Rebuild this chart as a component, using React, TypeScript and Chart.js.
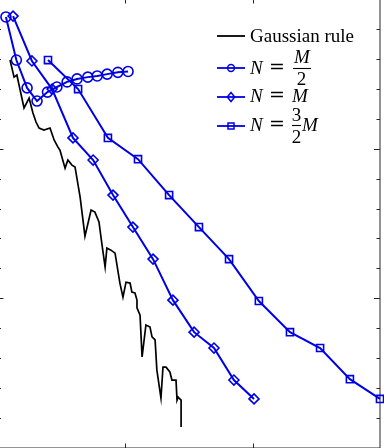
import React, { useEffect, useRef } from "react";
import { Chart, registerables } from "chart.js";

Chart.register(...registerables);

// ---- data (x: N, y: log10 of error) ----
const xTickValues = [50, 100];
const yDecades = [0, -1, -2, -3, -4, -5, -6, -7, -8, -9, -10, -11, -12, -13, -14, -15];
const yMajorDecades = [-5, -10];

const gaussN = [
  4.9, 6.5, 7.6, 10.4, 12.4, 13.9, 15.1, 16.3, 18.2, 20.6, 22.2, 23.7, 24.5, 26.5, 27.6, 29.2,
  30.4, 32.4, 34.3, 36.7, 38.2, 39.8, 41.0, 42.2, 42.9, 44.5, 46.1, 48.0, 49.2, 50.4, 52.0, 52.7,
  53.9, 54.7, 54.7, 55.9, 56.7, 58.2, 59.8, 60.6, 61.8, 62.5, 64.1, 64.9, 66.1, 67.6, 68.4, 70.0,
  70.4, 70.8, 72.0, 72.0,
];
const gaussLogErr = [
  -2.04, -2.61, -2.54, -3.64, -3.31, -3.81, -4.11, -4.31, -4.38, -4.31, -4.71, -4.95, -5.05, -5.65,
  -5.38, -5.55, -5.61, -6.62, -7.92, -7.05, -7.12, -7.45, -8.22, -8.95, -8.32, -8.39, -8.49, -9.49,
  -9.96, -9.46, -9.49, -9.79, -9.82, -10.06, -10.32, -10.56, -11.96, -10.89, -10.96, -11.29, -11.39,
  -12.40, -13.33, -12.30, -12.30, -12.46, -12.73, -12.73, -13.40, -13.30, -13.40, -14.30,
];

const halfN = [3.3, 7.4, 11.6, 15.5, 19.6, 23.3, 27.3, 31.2, 35.4, 39.1, 43.0, 47.2, 51.2];
const halfLogErr = [-0.6, -2.04, -2.97, -3.41, -3.11, -2.94, -2.77, -2.67, -2.61, -2.57, -2.51, -2.45, -2.42];

const fullN = [6.1, 13.5, 21.4, 29.6, 37.5, 45.3, 53.1, 61.0, 68.8, 77.1, 84.9, 92.7, 100.6];
const fullLogErr = [-0.57, -2.07, -3.01, -4.64, -5.38, -6.55, -7.62, -8.69, -10.06, -11.13, -11.66, -12.73, -13.36];

const threeHalfN = [19.8, 31.6, 43.3, 55.1, 67.3, 79.0, 90.8, 102.5, 114.7, 126.5, 138.2, 150.0];
const threeHalfLogErr = [-2.04, -3.01, -4.64, -5.35, -6.55, -7.62, -8.69, -10.09, -11.13, -11.66, -12.70, -13.36];

const seriesLabels = ["Gaussian rule", "N = M/2", "N = M", "N = 3/2 M"];

const BLUE = "#0000e6";
const AXIS = "#262626";
const OFF = 20; // canvas offset (canvas is shifted up/left so the axes box is cropped like the reference)

const pts = (xs: number[], es: number[]) => xs.map((x, i) => ({ x, y: Math.pow(10, es[i]) }));

const framePlugin = {
  id: "frame",
  beforeDatasetsDraw(chart: any) {
    const { ctx, chartArea, scales } = chart;
    const { left, right, top, bottom } = chartArea;
    ctx.save();
    ctx.strokeStyle = AXIS;
    ctx.lineWidth = 1;
    ctx.strokeRect(left, top, right - left, bottom - top);
    const seg = (x1: number, y1: number, x2: number, y2: number) => {
      ctx.beginPath();
      ctx.moveTo(x1, y1);
      ctx.lineTo(x2, y2);
      ctx.stroke();
    };
    yDecades.forEach((d) => {
      const py = Math.round(scales.y.getPixelForValue(Math.pow(10, d))) + 0.5;
      const len = yMajorDecades.includes(d) ? 6 : 3.5;
      seg(left, py, left + len, py);
      seg(right, py, right - len, py);
    });
    xTickValues.forEach((v) => {
      const px = Math.round(scales.x.getPixelForValue(v)) + 0.5;
      seg(px, bottom, px, bottom - 4.5);
      seg(px, top, px, top + 4.5);
    });
    ctx.restore();
  },
};

const legendPlugin = {
  id: "mathLegend",
  afterDraw(chart: any) {
    const ctx = chart.ctx as CanvasRenderingContext2D;
    ctx.save();
    ctx.translate(OFF, OFF);
    const roman = '19px "Liberation Serif"';
    const ital = 'italic 19px "Liberation Serif"';
    const eqFont = '19px "DejaVu Serif"';
    const lx1 = 217, lx2 = 245, mx = 231;
    const drawLine = (y: number, color: string) => {
      ctx.strokeStyle = color;
      ctx.lineWidth = 1.8;
      ctx.beginPath();
      ctx.moveTo(lx1, y);
      ctx.lineTo(lx2, y);
      ctx.stroke();
    };
    ctx.fillStyle = "#000";
    ctx.textBaseline = "alphabetic";

    // row 1
    drawLine(36, "#000");
    ctx.font = roman;
    ctx.textAlign = "left";
    ctx.fillText(seriesLabels[0], 250, 42);

    const eq = (base: number) => {
      ctx.font = ital;
      ctx.textAlign = "left";
      ctx.fillText("N", 250, base);
      ctx.font = eqFont;
      ctx.textAlign = "center";
      ctx.fillText("=", 277, base - 1);
    };
    const bar = (x1: number, x2: number, y: number) => {
      ctx.strokeStyle = "#000";
      ctx.lineWidth = 1.1;
      ctx.beginPath();
      ctx.moveTo(x1, y);
      ctx.lineTo(x2, y);
      ctx.stroke();
    };

    // row 2: N = M/2
    drawLine(68, BLUE);
    ctx.strokeStyle = BLUE;
    ctx.lineWidth = 1.5;
    ctx.beginPath();
    ctx.arc(mx, 68, 3.4, 0, Math.PI * 2);
    ctx.stroke();
    eq(74);
    ctx.font = ital;
    ctx.textAlign = "center";
    ctx.fillText("M", 302, 63);
    bar(293, 311, 68.5);
    ctx.font = roman;
    ctx.fillText("2", 301.5, 85);

    // row 3: N = M
    drawLine(97, BLUE);
    ctx.strokeStyle = BLUE;
    ctx.lineWidth = 1.5;
    ctx.beginPath();
    ctx.moveTo(mx, 92.5);
    ctx.lineTo(mx + 3.7, 97);
    ctx.lineTo(mx, 101.5);
    ctx.lineTo(mx - 3.7, 97);
    ctx.closePath();
    ctx.stroke();
    eq(102);
    ctx.font = ital;
    ctx.textAlign = "left";
    ctx.fillText("M", 292, 102);

    // row 4: N = 3/2 M
    drawLine(126, BLUE);
    ctx.strokeStyle = BLUE;
    ctx.lineWidth = 1.5;
    ctx.strokeRect(mx - 3, 123, 6, 6);
    eq(131);
    ctx.font = roman;
    ctx.textAlign = "center";
    ctx.fillText("3", 296.5, 121);
    bar(292, 301, 125.5);
    ctx.fillText("2", 296.5, 143);
    ctx.font = ital;
    ctx.textAlign = "left";
    ctx.fillText("M", 302, 131);

    ctx.restore();
  },
};

export default function App() {
  const canvasRef = useRef<HTMLCanvasElement | null>(null);

  useEffect(() => {
    const canvas = canvasRef.current;
    if (!canvas) return;
    const blueSeries = (label: string, data: any, style: string, r: number) => ({
      label,
      data,
      borderColor: BLUE,
      borderWidth: 2,
      pointStyle: style,
      pointRadius: r,
      pointBorderWidth: 1.6,
      pointBorderColor: BLUE,
      pointBackgroundColor: "rgba(0,0,0,0)",
      tension: 0,
      clip: 12,
    });
    const chart = new Chart(canvas, {
      type: "line",
      data: {
        datasets: [
          {
            label: seriesLabels[0],
            data: pts(gaussN, gaussLogErr),
            borderColor: "#000",
            borderWidth: 1.7,
            pointRadius: 0,
            tension: 0,
            clip: 12,
          },
          blueSeries(seriesLabels[1], pts(halfN, halfLogErr), "circle", 5),
          blueSeries(seriesLabels[2], pts(fullN, fullLogErr), "rectRot", 5),
          blueSeries(seriesLabels[3], pts(threeHalfN, threeHalfLogErr), "rect", 5),
        ] as any,
      },
      options: {
        animation: false,
        responsive: false,
        devicePixelRatio: 1,
        layout: { padding: { left: 17.5, right: 24, top: 19, bottom: 20 } },
        plugins: { legend: { display: false }, tooltip: { enabled: false } },
        scales: {
          x: { type: "linear", min: 0, max: 150, display: false },
          y: { type: "logarithmic", min: 1e-15, max: 1, display: false },
        },
      },
      plugins: [framePlugin, legendPlugin],
    });
    return () => chart.destroy();
  }, []);

  return (
    <div
      style={{
        position: "fixed",
        left: 0,
        top: 0,
        width: 384,
        height: 448,
        overflow: "hidden",
        background: "#fff",
      }}
    >
      <canvas
        ref={canvasRef}
        width={424}
        height={488}
        style={{ position: "absolute", left: -OFF, top: -OFF, width: 424, height: 488 }}
      />
    </div>
  );
}
